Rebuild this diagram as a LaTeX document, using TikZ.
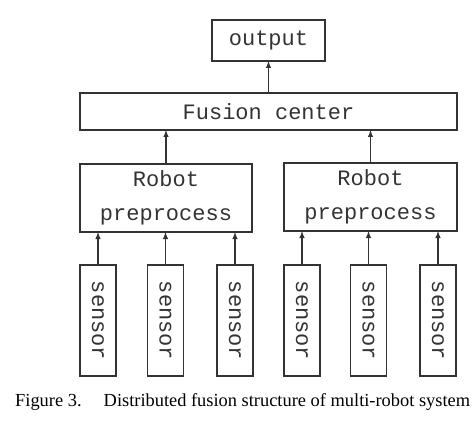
\documentclass[tikz,border=0pt]{standalone}
\usepackage{fontspec}
\setmainfont{Liberation Serif}
\setmonofont{Liberation Mono}
\usetikzlibrary{arrows, math}

\tikzset{
  blk/.style={draw=black!80, line width=1.4pt, inner sep=0pt, outer sep=0pt,
    font=\ttfamily\fontsize{22}{34}\selectfont, text=black!80},
  sensorbox/.style={blk, minimum width=36pt, minimum height=111pt},
  link/.style={-latex, line width=1.4pt, draw=black!80}
}

\begin{document}
\begin{tikzpicture}[x=1pt, y=-1pt]
\tikzmath{
\sy=320.5;
}
\useasboundingbox (0,0) rectangle (474,425);

%boxes
\node[blk, minimum width=113pt, minimum height=41pt] (out) at (268.5,40.5) {output};
\node[blk, minimum width=377pt, minimum height=37pt] (fus) at (268.5,111.5) {Fusion center};
\node[blk, minimum width=172pt, minimum height=68pt, align=center] (robA) at (166,198) {Robot\\preprocess};
\node[blk, minimum width=173pt, minimum height=68pt, align=center] (robB) at (370.5,197) {Robot\\preprocess};

%sensors
\foreach \n/\x in {1/98, 2/165.5, 3/235, 4/302, 5/368.5, 6/438}
  \node[sensorbox] (s\n) at (\x,\sy) {\rotatebox{-90}{sensor}};

%arrows
\draw[link] (fus.north) -- (out.south);
\draw[link] (robA.north) -- (robA.north |- fus.south);
\draw[link] (robB.north) -- (robB.north |- fus.south);
\foreach \n in {1,2,3}
  \draw[link] (s\n.north) -- (s\n.north |- robA.south);
\foreach \n in {4,5,6}
  \draw[link] (s\n.north) -- (s\n.north |- robB.south);

%caption
\node[anchor=base west, font=\fontsize{18.4}{22}\selectfont, inner sep=0pt] (cap) at (15,406)
  {Figure 3.\hspace{1.2em}Distributed fusion structure of multi-robot system};
\end{tikzpicture}
\end{document}
